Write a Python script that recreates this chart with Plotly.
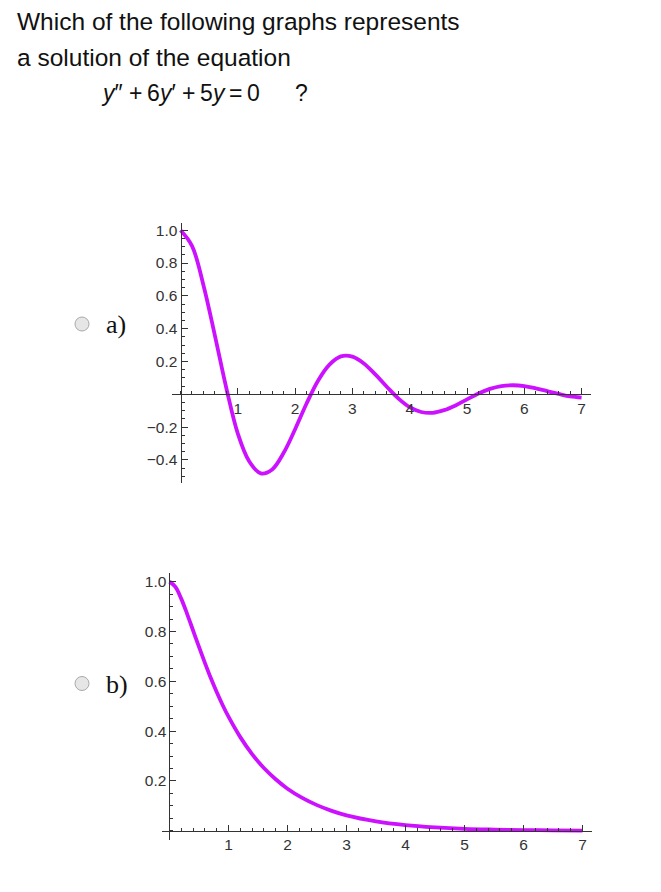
import plotly.graph_objects as go

# curve a) -- damped oscillation
xa = [0, 0.2, 0.4, 0.6, 0.8, 1.0, 1.2, 1.4, 1.6, 1.8, 2.0, 2.2, 2.4, 2.6, 2.8, 3.0, 3.2, 3.4,
      3.6, 3.8, 4.0, 4.2, 4.4, 4.6, 4.8, 5.0, 5.2, 5.4, 5.6, 5.8, 6.0, 6.2, 6.4, 6.6, 6.8, 7.0]
ya = [1.0, 0.905, 0.665, 0.358, 0.037, -0.24, -0.41, -0.482, -0.458, -0.357, -0.213, -0.056,
      0.083, 0.181, 0.231, 0.229, 0.188, 0.121, 0.046, -0.025, -0.079, -0.108, -0.113, -0.097,
      -0.068, -0.031, 0.005, 0.033, 0.05, 0.055, 0.05, 0.036, 0.019, 0.002, -0.013, -0.02]

# curve b) -- smooth decay
xb = [0, 0.1, 0.2, 0.3, 0.4, 0.5, 0.6, 0.7, 0.8, 0.9, 1.0, 1.2, 1.4, 1.6, 1.8, 2.0,
      2.25, 2.5, 2.75, 3.0, 3.5, 4.0, 4.5, 5.0, 5.5, 6.0, 6.5, 7.0]
yb = [1.0, 0.979, 0.931, 0.87, 0.804, 0.738, 0.674, 0.613, 0.557, 0.505, 0.458, 0.376,
      0.308, 0.252, 0.207, 0.169, 0.132, 0.103, 0.08, 0.062, 0.038, 0.023, 0.014,
      0.008, 0.005, 0.003, 0.002, 0.001]

x_ticks = [1, 2, 3, 4, 5, 6, 7]
ya_ticks = [-0.4, -0.2, 0.2, 0.4, 0.6, 0.8, 1.0]
yb_ticks = [0.2, 0.4, 0.6, 0.8, 1.0]

# the page body has an 8px margin, so the figure is drawn 8px in from the corner
OFF = 8
W, H = 661 - 2 * OFF, 892 - 2 * OFF
CURVE = '#cc11ff'
AXIS = '#333333'
tick_font = dict(family='Liberation Sans, Arial, sans-serif', size=15.5, color='#333333')


def px_x(p):
    return (p - OFF) / W


def px_y(p):
    return 1 - (p - OFF) / H


def axis_pos(dom, rng):
    # paper position of the value 0 along an axis
    return dom[0] + (0 - rng[0]) / (rng[1] - rng[0]) * (dom[1] - dom[0])


# plot boxes in page pixels: left, right, top, bottom
box_a = (171.7, 590.7, 222.7, 483.0)
box_b = (161.7, 591.7, 572.7, 840.0)
xr_a, yr_a = [-0.154, 7.159], [-0.541, 1.046]
xr_b, yr_b = [-0.132, 7.156], [-0.037, 1.036]

xd_a = [px_x(box_a[0]), px_x(box_a[1])]
yd_a = [px_y(box_a[3]), px_y(box_a[2])]
xd_b = [px_x(box_b[0]), px_x(box_b[1])]
yd_b = [px_y(box_b[3]), px_y(box_b[2])]


def xaxis(dom, rng, ydom, yrng):
    return dict(domain=dom, range=rng, anchor='free', position=axis_pos(ydom, yrng),
                side='bottom', showline=True, linecolor=AXIS, linewidth=1,
                showgrid=False, zeroline=False, tickmode='array', tickvals=x_ticks,
                ticktext=[str(v) for v in x_ticks], ticks='inside', ticklen=6,
                tickcolor=AXIS, tickfont=tick_font,
                minor=dict(ticks='inside', tickmode='linear', tick0=0, dtick=0.2,
                           ticklen=3, tickcolor=AXIS, showgrid=False))


def yaxis(dom, rng, xdom, xrng, vals):
    return dict(domain=dom, range=rng, anchor='free', position=axis_pos(xdom, xrng),
                side='left', showline=True, linecolor=AXIS, linewidth=1,
                showgrid=False, zeroline=False, tickmode='array', tickvals=vals,
                ticktext=[('\u2212%.1f' % -v) if v < 0 else '%.1f' % v for v in vals],
                ticks='inside', ticklen=6, tickcolor=AXIS, tickfont=tick_font,
                minor=dict(ticks='inside', tickmode='linear', tick0=0, dtick=0.05,
                           ticklen=3, tickcolor=AXIS, showgrid=False))


fig = go.Figure()
fig.add_trace(go.Scatter(x=xa, y=ya, mode='lines', line=dict(color=CURVE, width=3.8, shape='spline'),
                         xaxis='x', yaxis='y', hoverinfo='skip'))
fig.add_trace(go.Scatter(x=xb, y=yb, mode='lines', line=dict(color=CURVE, width=3.8, shape='spline'),
                         xaxis='x2', yaxis='y2', hoverinfo='skip'))

title_font = dict(family='Liberation Sans, Arial, sans-serif', size=24.5, color='#111111')
eq_font = dict(family='Liberation Sans, Arial, sans-serif', size=23, color='#111111')
label_font = dict(family='Liberation Serif, Times New Roman, serif', size=26, color='#111111')

annotations = [
    dict(text='Which of the following graphs represents', x=px_x(15), y=px_y(21.5), font=title_font),
    dict(text='a solution of the equation', x=px_x(15), y=px_y(57.5), font=title_font),
    dict(text='<i>y</i>\u2033 +\u20096<i>y</i>\u2032 +\u20095<i>y</i>\u2009=\u20090',
         x=px_x(99), y=px_y(93), font=eq_font),
    dict(text='?', x=px_x(293), y=px_y(93), font=eq_font),
]
for a in annotations:
    a.update(xref='paper', yref='paper', xanchor='left', yanchor='middle', showarrow=False)

for txt, cy in [('a)', 324), ('b)', 684)]:
    annotations.append(dict(text=txt, x=px_x(104), y=px_y(cy), xref='paper', yref='paper',
                            xanchor='left', yanchor='middle', showarrow=False, font=label_font))

# radio buttons
shapes = []
for cy in [324, 683.5]:
    shapes.append(dict(type='circle', xref='paper', yref='paper',
                       x0=px_x(75), x1=px_x(89), y0=px_y(cy + 7), y1=px_y(cy - 7),
                       fillcolor='#e6e6e6', line=dict(color='#a9a9a9', width=1)))

fig.update_layout(
    width=W, height=H,
    margin=dict(l=0, r=0, t=0, b=0),
    paper_bgcolor='white', plot_bgcolor='white',
    showlegend=False,
    xaxis=xaxis(xd_a, xr_a, yd_a, yr_a),
    yaxis=yaxis(yd_a, yr_a, xd_a, xr_a, ya_ticks),
    xaxis2=xaxis(xd_b, xr_b, yd_b, yr_b),
    yaxis2=yaxis(yd_b, yr_b, xd_b, xr_b, yb_ticks),
    annotations=annotations,
    shapes=shapes,
)

fig.write_html("out.html", config={'displayModeBar': False})
